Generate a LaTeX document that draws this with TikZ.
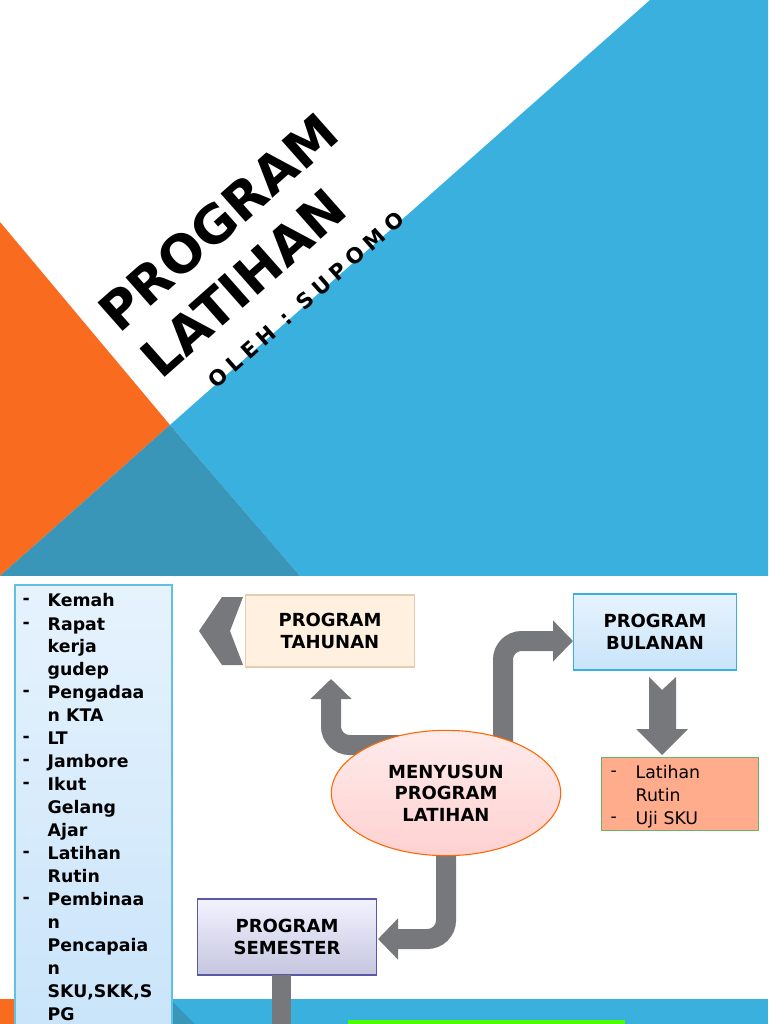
\documentclass[tikz,border=0pt]{standalone}
\usepackage{fontspec}
\setmainfont{DejaVu Sans}
\usetikzlibrary{arrows.meta,shapes.geometric}
\definecolor{sblue}{HTML}{3AB0DF}
\definecolor{sorange}{HTML}{F96B1E}
\definecolor{steal}{HTML}{3A96B8}
\definecolor{agray}{HTML}{77787C}
\definecolor{lb1}{HTML}{E6F3FD}
\definecolor{lb2}{HTML}{C9E4FA}
\tikzset{
  bx/.style={draw,line width=0.8pt,minimum height=54pt,align=center,font=\bfseries\fontsize{13.5}{16}\selectfont},
  garrow/.style={draw=agray,line width=15pt,rounded corners=14pt,-{Triangle[width=30pt,length=15pt]}},
  li/.style={anchor=base west,font=\bfseries\fontsize{13}{15}\selectfont}
}
\begin{document}
\begin{tikzpicture}[x=0.75pt,y=-0.75pt]
\useasboundingbox (0,0) rectangle (768,1024);
% top slide
\fill[white] (0,0) rectangle (768,576);
\fill[sorange] (0,222) -- (170,425) -- (0,576) -- cycle;
\fill[sblue] (650,0) -- (768,0) -- (768,576) -- (300,576) -- (170,425) -- cycle;
\fill[steal] (170,425) -- (300,576) -- (0,576) -- cycle;
\node[rotate=41.5,font=\bfseries\fontsize{39}{45}\selectfont] (t1) at (218,222) {PROGRAM};
\node[rotate=41.5,font=\bfseries\fontsize{39}{45}\selectfont] (t2) at (243,283) {LATIHAN};
\node[rotate=41.5,font=\bfseries\fontsize{16}{18}\selectfont\addfontfeature{LetterSpace=28}] (t3) at (306,300) {OLEH : SUPOMO};
% bottom slide
\fill[white] (0,576) rectangle (768,1024);
\fill[sblue] (0,999) rectangle (768,1024);
\fill[sorange] (0,999) rectangle (170,1024);
\fill[steal] (170,999) -- (195,1024) -- (170,1024) -- cycle;
\fill[green!70!yellow] (348,1020) rectangle (625,1024);
% list box
\shade[top color=lb1,bottom color=lb2] (15,585) rectangle (172,1030);
\draw[sblue!80,line width=0.8pt] (15,1030) -- (15,585) -- (172,585) -- (172,1030);
\foreach \y/\d/\t in {601/-/Kemah,625/-/Rapat,647//kerja,670//gudep,693/-/Pengadaa,716//n KTA,739/-/LT,762/-/Jambore,785/-/Ikut,808//Gelang,831//Ajar,854/-/Latihan,877//Rutin,900/-/Pembinaa,923//n,946//Pencapaia,969//n,992//{SKU,SKK,S},1015//PG}{
  \node[li] at (43,\y+5) {\t};
  \node[li] at (18,\y+3) {\d};
}
% boxes
\node[bx,fill=orange!12,draw=brown!40,minimum width=127pt] (tah) at (330,631) {PROGRAM\\TAHUNAN};
\node[bx,top color=lb1,bottom color=lb2,draw=sblue,minimum width=122pt,minimum height=57pt] (bul) at (655,632) {PROGRAM\\BULANAN};
\node[bx,top color=blue!5,bottom color=blue!30!gray!35,draw=blue!30!gray,minimum width=134pt,minimum height=57pt] (sem) at (287,937) {PROGRAM\\SEMESTER};
\node[draw=green!50!black!60,line width=1pt,fill=orange!55!red!45!white,minimum width=118pt,minimum height=55pt] (lat) at (680,794) {};
\node[anchor=base west,font=\fontsize{13}{15}\selectfont] at (606,776) {-};
\node[anchor=base west,font=\fontsize{13}{15}\selectfont] at (606,822) {-};
\node[anchor=base west,font=\fontsize{13}{15}\selectfont] at (631,778) {Latihan};
\node[anchor=base west,font=\fontsize{13}{15}\selectfont] at (631,801) {Rutin};
\node[anchor=base west,font=\fontsize{13}{15}\selectfont] at (631,824) {Uji SKU};
% arrows
\coordinate (a1) at (400,745);
\draw[garrow] (a1) -- (331,745) -- (331,679);
\coordinate (a2) at (503,745);
\draw[garrow] (a2) -- (503,641) -- (573,641);
\coordinate (a3) at (446,850);
\draw[garrow] (a3) -- (446,939) -- (378,939);
\fill[agray] (199,631) -- (222,597) -- (243,597) -- (230,631) -- (243,665) -- (222,665) -- cycle;
\fill[agray] (649,677) -- (662,690) -- (676,677) -- (676,729) -- (688,729) -- (662,755) -- (636,729) -- (649,729) -- cycle;
\fill[agray] (272,975) rectangle (291,1024);
\node[ellipse,draw=orange!80!red,line width=0.8pt,top color=red!8,bottom color=red!18,minimum width=172pt,minimum height=94pt,align=center,font=\bfseries\fontsize{13.5}{16}\selectfont] (mid) at (446,793) {MENYUSUN\\PROGRAM\\LATIHAN};
\end{tikzpicture}
\end{document}
